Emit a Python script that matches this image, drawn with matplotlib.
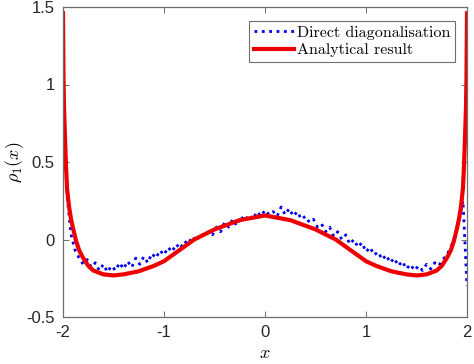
import matplotlib
matplotlib.use("Agg")
import matplotlib.pyplot as plt
import numpy as np

# Data

# direct diagonalisation, sampled on a regular grid in [-2, 2]
x_num = np.linspace(-2, 2, 101)
rho_num = [
    0.98, 0.28, 0.03, -0.07, -0.12, -0.16, -0.13, -0.18, -0.15, -0.20,
    -0.16, -0.21, -0.17, -0.20, -0.15, -0.19, -0.14, -0.18, -0.12, -0.16,
    -0.11, -0.15, -0.09, -0.12, -0.07, -0.10, -0.05, -0.08, -0.03, -0.06,
    -0.01, -0.03, 0.02, -0.01, 0.04, 0.02, 0.05, 0.03, 0.08, 0.05,
    0.11, 0.08, 0.13, 0.09, 0.15, 0.12, 0.16, 0.13, 0.18, 0.15,
    0.19, 0.16, 0.18, 0.15, 0.21, 0.16, 0.20, 0.15, 0.18, 0.13,
    0.15, 0.11, 0.13, 0.08, 0.10, 0.05, 0.08, 0.02, 0.05, 0.00,
    0.03, -0.03, 0.00, -0.05, -0.02, -0.08, -0.05, -0.10, -0.08, -0.13,
    -0.10, -0.15, -0.12, -0.17, -0.14, -0.19, -0.16, -0.20, -0.17, -0.20,
    -0.16, -0.19, -0.15, -0.17, -0.13, -0.10, -0.05, 0.02, 0.12, 0.25,
    -0.30,
]

# analytical result (left half, mirrored to the right)
x_half = [-2.0, -1.995, -1.99, -1.98, -1.97, -1.96, -1.94, -1.92, -1.90,
          -1.87, -1.84, -1.80, -1.75, -1.70, -1.60, -1.50, -1.40, -1.25,
          -1.10, -1.00, -0.85, -0.70, -0.50, -0.25, 0.0]
rho_half = [1.46, 1.05, 0.85, 0.65, 0.47, 0.33, 0.21, 0.13, 0.07,
            -0.01, -0.07, -0.12, -0.17, -0.20, -0.225, -0.232, -0.225, -0.205,
            -0.17, -0.14, -0.07, 0.0, 0.065, 0.125, 0.155]

x_an = np.concatenate([x_half, -np.array(x_half[-2::-1])])
rho_an = np.concatenate([rho_half, rho_half[-2::-1]])

plt.rcParams['mathtext.fontset'] = 'cm'
plt.rcParams['font.family'] = ['Liberation Sans', 'DejaVu Sans']

fig = plt.figure(figsize=(4.74, 3.64), dpi=100)
ax = fig.add_axes([63 / 474, 47 / 364, 404 / 474, 310 / 364])

ax.plot(x_num, rho_num, color='#0000ee', linestyle=':', linewidth=2.0,
        label='Direct diagonalisation')
ax.plot(x_an, rho_an, color='#ee0000', linestyle='-', linewidth=3.0,
        label='Analytical result')

ax.set_xlim(-2, 2)
ax.set_ylim(-0.5, 1.5)
ax.set_xticks([-2, -1, 0, 1, 2])
ax.set_xticklabels(['-2', '-1', '0', '1', '2'])
ax.set_yticks([-0.5, 0, 0.5, 1, 1.5])
ax.set_yticklabels(['-0.5', '0', '0.5', '1', '1.5'])

gray = '#6e6e6e'
for s in ax.spines.values():
    s.set_color(gray)
    s.set_linewidth(0.9)
ax.tick_params(direction='in', top=True, right=True, length=4, width=0.7,
               color=gray, labelsize=12, labelcolor='#262626', pad=6)

ax.set_xlabel('$x$', fontsize=13, labelpad=3)
ax.set_ylabel(r'$\rho_1(x)$', fontsize=13, labelpad=0)

leg = ax.legend(loc='upper right', bbox_to_anchor=(0.97, 0.955),
                borderaxespad=0, prop={'family': 'cmr10', 'size': 11.5},
                fancybox=False, framealpha=1, edgecolor=gray,
                handlelength=2.5, handletextpad=0.2, borderpad=0.3,
                labelspacing=0.2)
leg.get_frame().set_linewidth(0.8)

fig.savefig('out.png', dpi=100)
